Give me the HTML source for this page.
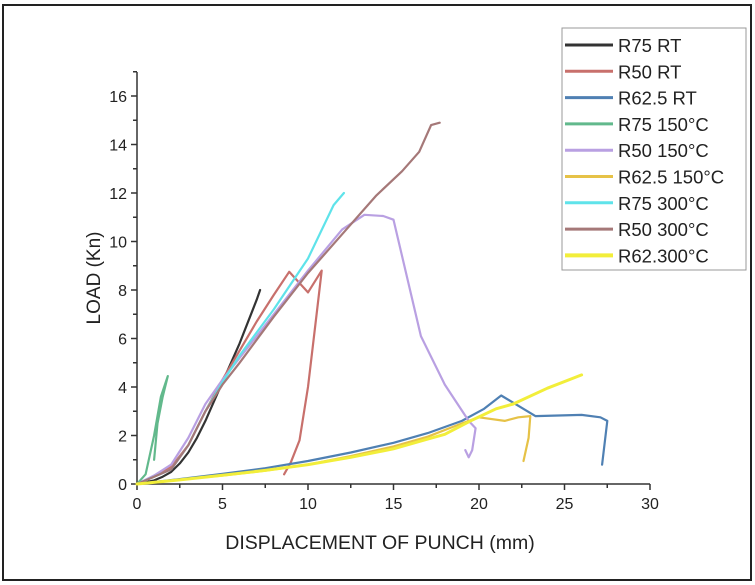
<!DOCTYPE html>
<html><head><meta charset="utf-8"><style>
body{margin:0;background:#fff;}
svg{display:block;font-family:"Liberation Sans",Arial,sans-serif;}
</style></head><body>
<svg id="s" width="755" height="585" viewBox="0 0 755 585" xmlns="http://www.w3.org/2000/svg">
<rect x="0" y="0" width="755" height="585" fill="#fff"/>
<rect x="3" y="5" width="748" height="575" fill="none" stroke="#222" stroke-width="2"/>
<g id="axes" stroke="#333" stroke-width="1.5" fill="none"></g>
<g id="labels" fill="#222" font-size="16"></g>
<g id="series" fill="none" stroke-width="2.2" stroke-linejoin="round" stroke-linecap="round"></g>
<text x="380" y="549" text-anchor="middle" font-size="19.5" fill="#222">DISPLACEMENT OF PUNCH (mm)</text>
<text transform="translate(100,278) rotate(-90)" text-anchor="middle" font-size="19" fill="#222">LOAD (Kn)</text>
<rect x="562" y="28" width="184" height="242" fill="#fff" stroke="#999" stroke-width="1"/>
<g id="legend" font-size="18.5" fill="#222"></g>
</svg>
<script>
const X=x=>137+17.1*x, Y=y=>484-24.25*y;
const NS="http://www.w3.org/2000/svg";
function el(p,t,a,txt){const e=document.createElementNS(NS,t);for(const k in a)e.setAttribute(k,a[k]);if(txt!=null)e.textContent=txt;document.getElementById(p).appendChild(e);return e;}
el('axes','line',{x1:X(0),y1:Y(0),x2:X(30),y2:Y(0)});
el('axes','line',{x1:X(0),y1:Y(0),x2:X(0),y2:72});
for(let v=0;v<=30;v+=2.5){const major=v%5==0;el('axes','line',{x1:X(v),y1:Y(0),x2:X(v),y2:Y(0)+(major?6:4)});if(major)el('labels','text',{x:X(v),y:Y(0)+25,'text-anchor':'middle'},v);}
for(let v=0;v<=17;v+=1){const major=v%2==0;el('axes','line',{x1:X(0),y1:Y(v),x2:X(0)-(major?6:4),y2:Y(v)});if(major)el('labels','text',{x:X(0)-10,y:Y(v)+6,'text-anchor':'end'},v);}
const S=[
['R75 RT','#333333',[[0,0],[1,0.15],[1.5,0.3],[2,0.5],[2.5,0.85],[3,1.3],[3.5,1.9],[4,2.6],[4.5,3.4],[5,4.2],[6,5.8],[7,7.6],[7.2,8]]],
['R50 RT','#c8706c',[[0,0],[1,0.3],[2,0.7],[3,1.6],[4,3],[5,4.3],[6,5.5],[7,6.7],[8,7.8],[8.9,8.75],[10,7.9],[10.8,8.8],[10.5,7],[10,4],[9.5,1.8],[9,0.9],[8.6,0.4]]],
['R62.5 RT','#4f80b3',[[0,0],[2.5,0.2],[5,0.42],[7.5,0.65],[10,0.95],[12.5,1.3],[15,1.7],[17,2.1],[19,2.6],[20.3,3.1],[21.3,3.65],[23.3,2.8],[26,2.85],[27.1,2.75],[27.5,2.6],[27.2,0.8]]],
['R75 150°C','#62b98c',[[0,0],[0.5,0.4],[1,2],[1.4,3.6],[1.8,4.45],[1.5,3.6],[1.2,2.5],[1,1]]],
['R50 150°C','#b9a0e2',[[0,0],[1,0.35],[2,0.8],[3,1.9],[4,3.3],[5,4.3],[6,5.2],[8,7],[10,8.8],[12,10.5],[13.3,11.1],[14.4,11.05],[15,10.9],[16.6,6.1],[18,4.1],[19.4,2.6],[19.8,2.3],[19.6,1.4],[19.4,1.1],[19.2,1.4]]],
['R62.5 150°C','#e6c247',[[0,0],[2.5,0.18],[5,0.35],[7.5,0.55],[10,0.8],[12.5,1.15],[15,1.55],[17,1.95],[19,2.5],[20,2.75],[21.5,2.6],[22.3,2.75],[23,2.8],[22.9,1.9],[22.6,0.95]]],
['R75 300°C','#5fe3ea',[[0,0],[1,0.3],[2,0.6],[3,1.6],[4,3],[5,4.2],[6,5.3],[8,7.2],[10,9.3],[11.5,11.5],[12.1,12]]],
['R50 300°C','#a57878',[[0,0],[1,0.3],[2,0.6],[3,1.6],[4,3],[5,4.1],[6,5],[8,6.9],[10,8.7],[12,10.3],[14,11.9],[15.5,12.9],[16.5,13.7],[17.2,14.8],[17.7,14.9]]],
['R62.300°C','#f2ee3a',[[0,0],[2.5,0.17],[5,0.36],[7.5,0.56],[10,0.8],[12.5,1.1],[15,1.45],[17,1.85],[18,2.05],[19.5,2.6],[21,3.1],[22,3.3],[24,3.95],[26,4.5]]]
];
S.forEach((s,i)=>{
 el('series','polyline',{points:s[2].map(p=>X(p[0]).toFixed(1)+','+Y(p[1]).toFixed(1)).join(' '),stroke:s[1],'stroke-width':i==8?3:2.2});
 const y=45+26.3*i;
 el('legend','line',{x1:565,y1:y,x2:613,y2:y,stroke:s[1],'stroke-width':i==8?4:3});
 el('legend','text',{x:618,y:y+7},s[0]);
});
</script>
</body></html>
